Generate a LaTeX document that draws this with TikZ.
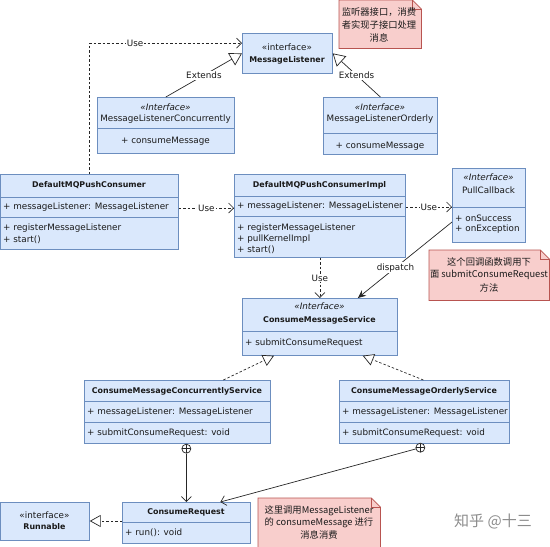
\documentclass[tikz,border=0pt]{standalone}
\usepackage{fontspec}
\setmainfont{DejaVu Sans}
\newfontfamily\cjk{Noto Sans CJK SC}
\usetikzlibrary{arrows.meta,calc}
\definecolor{boxfill}{HTML}{DAE8FC}
\definecolor{boxline}{HTML}{6C8EBF}
\definecolor{notefill}{HTML}{F8CECC}
\definecolor{noteline}{HTML}{B85450}
\definecolor{txtcol}{HTML}{1A1A1A}
\begin{document}
\begin{tikzpicture}[x=1pt,y=-1pt,
  box/.style={draw=boxline, fill=boxfill, line width=0.7pt, inner sep=0pt, anchor=north west},
  notebg/.style={draw=none, inner sep=0pt, anchor=north west},
  divline/.style={draw=boxline, line width=0.7pt},
  txt/.style={font=\fontsize{8.8}{10}\selectfont, inner sep=0pt, text=txtcol},
  ltxt/.style={txt, anchor=west},
  btxt/.style={font=\fontsize{7.9}{10}\selectfont\bfseries, inner sep=0pt, text=txtcol},
  itxt/.style={font=\fontsize{8.8}{10}\selectfont\itshape, inner sep=0pt, text=txtcol},
  ntxt/.style={font=\cjk\fontsize{9.3}{10}\selectfont, inner sep=0pt, text=txtcol},
  lbl/.style={font=\fontsize{8.8}{10}\selectfont, fill=white, inner sep=1pt, text=txtcol},
  conn/.style={draw=black!85, line width=0.7pt},
  dep/.style={conn, dash pattern=on 2.5pt off 2pt, -{Straight Barb[length=5pt,width=10pt]}},
  real/.style={conn, dash pattern=on 2.5pt off 2pt, -{Triangle[open,length=11pt,width=12pt,fill=white]}},
  gen/.style={conn, -{Triangle[open,length=12pt,width=14pt,fill=white]}},
  disp/.style={conn, -{Stealth[length=8pt,width=7pt]}},
  assoc/.style={conn, -{Straight Barb[length=5pt,width=10pt]}},
  circplus/.style={circle, draw=black!85, fill=white, line width=0.7pt, minimum size=9pt, inner sep=0pt,
    path picture={\draw[black!85, line width=0.6pt] (path picture bounding box.north) -- (path picture bounding box.south) (path picture bounding box.west) -- (path picture bounding box.east);}}
]
\useasboundingbox (0,0) rectangle (550,547);

% ---------- notes ----------
\newcommand{\foldnote}[1]{%
  \fill[notefill] (#1.north west) -- ($(#1.north east)+(-9,0)$) -- ($(#1.north east)+(0,9)$) -- (#1.south east) -- (#1.south west) -- cycle;
  \draw[noteline, line width=0.7pt] (#1.north west) -- ($(#1.north east)+(-9,0)$) -- ($(#1.north east)+(0,9)$) -- (#1.south east) -- (#1.south west) -- cycle;
  \draw[noteline, line width=0.6pt] ($(#1.north east)+(-9,0)$) -- ($(#1.north east)+(-9,9)$) -- ($(#1.north east)+(0,9)$);}

\node[notebg, minimum width=82pt, minimum height=48pt] (n1) at (339,0) {};
\foldnote{n1}
\node[ntxt] at (379,12) {监听器接口，消费};
\node[ntxt] at (379,25) {者实现子接口处理};
\node[ntxt] at (379,38) {消息};

\node[notebg, minimum width=120pt, minimum height=50pt] (n2) at (429,250) {};
\foldnote{n2}
\node[ntxt] at (489,262) {这个回调函数调用下};
\node[ntxt] at (489,275) {面 submitConsumeRequest};
\node[ntxt] at (489,288) {方法};

\node[notebg, minimum width=122pt, minimum height=49pt] (n3) at (258,498) {};
\foldnote{n3}
\node[ntxt] at (319,511) {这里调用MessageListener};
\node[ntxt] at (319,523) {的 consumeMessage 进行};
\node[ntxt] at (319,535) {消息消费};

% ---------- boxes ----------
% MessageListener
\node[box, minimum width=90pt, minimum height=40pt] (ml) at (242,33) {};
\node[txt] at (287,47) {«interface»};
\node[btxt] at (287,60) {MessageListener};

% MessageListenerConcurrently
\node[box, minimum width=137pt, minimum height=56pt] (mlc) at (97,97) {};
\draw[divline] (97,128) -- (234,128);
\node[itxt] at (165.5,107) {<<Interface>>};
\node[txt] at (165.5,119) {MessageListenerConcurrently};
\node[txt] at (165.5,141) {+ consumeMessage};

% MessageListenerOrderly
\node[box, minimum width=114pt, minimum height=57pt] (mlo) at (323,97) {};
\draw[divline] (323,133) -- (437,133);
\node[itxt] at (380,107) {<<Interface>>};
\node[txt] at (380,119) {MessageListenerOrderly};
\node[txt] at (380,146) {+ consumeMessage};

% DefaultMQPushConsumer
\node[box, minimum width=178pt, minimum height=75pt] (dmc) at (0,174) {};
\draw[divline] (0,197) -- (178,197);
\draw[divline] (0,217) -- (178,217);
\node[btxt] at (89,185) {DefaultMQPushConsumer};
\node[ltxt] at (3,207) {+ messageListener: MessageListener};
\node[ltxt] at (3,228) {+ registerMessageListener};
\node[ltxt] at (3,240) {+ start()};

% DefaultMQPushConsumerImpl
\node[box, minimum width=171pt, minimum height=83pt] (dmci) at (234,174) {};
\draw[divline] (234,196) -- (405,196);
\draw[divline] (234,216) -- (405,216);
\node[btxt] at (319.5,185) {DefaultMQPushConsumerImpl};
\begin{scope}
\clip (234,196) rectangle (404,216);
\node[ltxt] at (237,206) {+ messageListener: MessageListener};
\end{scope}
\node[ltxt] at (237,228) {+ registerMessageListener};
\node[ltxt] at (237,239) {+ pullKernelImpl};
\node[ltxt] at (237,250) {+ start()};

% PullCallback
\node[box, minimum width=73pt, minimum height=74pt] (pc) at (452,168) {};
\draw[divline] (452,207) -- (525,207);
\node[itxt] at (488.5,177) {<<Interface>>};
\node[txt] at (488.5,190) {PullCallback};
\node[ltxt] at (455,218) {+ onSuccess};
\node[ltxt] at (455,229) {+ onException};

% ConsumeMessageService
\node[box, minimum width=155pt, minimum height=57pt] (cms) at (242,298) {};
\draw[divline] (242,331) -- (397,331);
\node[itxt] at (319.5,306) {<<Interface>>};
\node[btxt] at (319.5,320) {ConsumeMessageService};
\node[ltxt] at (245,343) {+ submitConsumeRequest};

% ConsumeMessageConcurrentlyService
\node[box, minimum width=186pt, minimum height=63pt] (cmcs) at (84,380) {};
\draw[divline] (84,401) -- (270,401);
\draw[divline] (84,422) -- (270,422);
\node[btxt] at (177,391) {ConsumeMessageConcurrentlyService};
\node[ltxt] at (87,412) {+ messageListener: MessageListener};
\node[ltxt] at (87,433) {+ submitConsumeRequest: void};

% ConsumeMessageOrderlyService
\node[box, minimum width=170pt, minimum height=63pt] (cmos) at (339,380) {};
\draw[divline] (339,401) -- (509,401);
\draw[divline] (339,422) -- (509,422);
\node[btxt] at (424,391) {ConsumeMessageOrderlyService};
\begin{scope}
\clip (339,401) rectangle (508,422);
\node[ltxt] at (342,412) {+ messageListener: MessageListener};
\end{scope}
\node[ltxt] at (342,433) {+ submitConsumeRequest: void};

% Runnable
\node[box, minimum width=89pt, minimum height=38pt] (run) at (0,502) {};
\node[txt] at (44.5,515) {«interface»};
\node[btxt] at (44.5,527) {Runnable};

% ConsumeRequest
\node[box, minimum width=128pt, minimum height=41pt] (cr) at (122,502) {};
\draw[divline] (122,522) -- (250,522);
\node[btxt] at (186,512) {ConsumeRequest};
\node[ltxt] at (125,533) {+ run(): void};

% ---------- connectors ----------
\draw[dep] (dmc.north) |- node[lbl, pos=0.65] {Use} ($(ml.north west)!0.25!(ml.south west)$);
\draw[gen] (mlc.north) -- node[lbl, pos=0.5] {Extends} (ml.west);
\draw[gen] (mlo.north) -- node[lbl, pos=0.5] {Extends} (ml.east);
\draw[dep] ($(dmc.north east)+(0,34)$) -- node[lbl] {Use} ($(dmci.north west)+(0,34)$);
\draw[dep] ($(dmci.north east)+(0,33)$) -- node[lbl] {Use} ($(pc.north west)+(0,39)$);
\draw[disp] ($(pc.north west)+(0,54)$) -- node[lbl, pos=0.6] {dispatch} ($(cms.north)+(38,0)$);
\draw[dep] (dmci.south) -- node[lbl] {Use} (cms.north);
\draw[real] ($(cmcs.north)+(46,0)$) -- ($(cms.south west)+(32,0)$);
\draw[real] ($(cmos.north)+(-1,0)$) -- ($(cms.south east)+(-35,0)$);
\draw[real] ($(cr.north west)+(0,19)$) -- ($(run.north east)+(0,19)$);

\node[circplus] (cp1) at ($(cmcs.south)+(9,5)$) {};
\node[circplus] (cp2) at ($(cmos.south)+(-4,4)$) {};
\draw[assoc] (cp1) -- (cr.north);
\draw[assoc] (cp2) -- ($(cr.north)+(34,0)$);

% watermark
\node[font=\cjk\fontsize{15}{15}\selectfont, text=black!45, inner sep=0pt] (wm) at (493,521) {知乎 @十三};
\end{tikzpicture}
\end{document}
